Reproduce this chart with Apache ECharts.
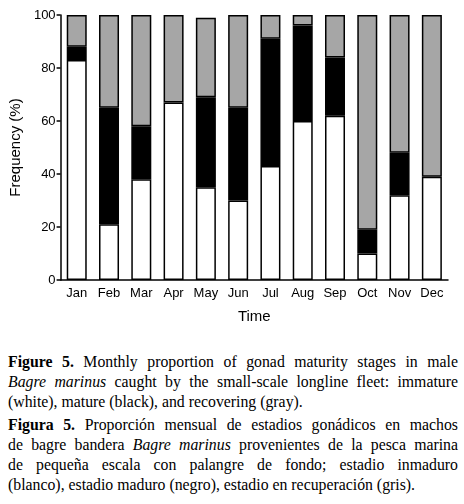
<!DOCTYPE html>
<html>
<head>
<meta charset="utf-8">
<script src="https://cdn.jsdelivr.net/npm/echarts@6/dist/echarts.min.js"></script>
<style>
  body { margin: 0; background: #fff; }
  #main { width: 464px; height: 340px; }
  #caption {
    position: absolute; left: 8px; top: 352px; width: 450px;
    font-family: "Liberation Serif", "Times New Roman", serif;
    font-size: 15.8px; line-height: 20px; color: #000;
  }
  #caption p { margin: 0 0 3px 0; }
  #caption span { display: block; white-space: nowrap; text-align: justify; text-align-last: justify; }
  #caption span.last { text-align-last: left; }
</style>
</head>
<body>
<div id="main"></div>
<div id="caption">
  <p><span><b>Figure 5.</b> Monthly proportion of gonad maturity stages in male</span><span><i>Bagre marinus</i> caught by the small-scale longline fleet: immature</span><span class="last">(white), mature (black), and recovering (gray).</span></p>
  <p><span><b>Figura 5.</b> Proporción mensual de estadios gonádicos en machos</span><span>de bagre bandera <i>Bagre marinus</i> provenientes de la pesca marina</span><span>de pequeña escala con palangre de fondo; estadio inmaduro</span><span class="last">(blanco), estadio maduro (negro), estadio en recuperación (gris).</span></p>
</div>
<script>
var months = ['Jan', 'Feb', 'Mar', 'Apr', 'May', 'Jun', 'Jul', 'Aug', 'Sep', 'Oct', 'Nov', 'Dec'];
var immature = [83, 21, 38, 67, 35, 30, 43, 60, 62, 10, 32, 39];
var mature = [5, 44, 20, 0, 34, 35, 48, 36, 22, 9, 16, 0];
var recovering = [12, 35, 42, 33, 30, 35, 9, 4, 16, 81, 52, 61];

var myChart = echarts.init(document.getElementById('main'));

var font = 'Liberation Sans, Arial, sans-serif';

function stage(name, data, color) {
	return {
		name: name,
		type: 'bar',
		stack: 'total',
		barWidth: 20,
		// empty segments would otherwise draw a doubled border line
		data: data.map(function (v) { return v === 0 ? '-' : v; }),
		itemStyle: { color: color, borderColor: '#000', borderWidth: 1.5 }
	};
}

option = {
	animation: false,
	grid: { left: 49, right: 16, top: 15, bottom: 60 },
	xAxis: {
		type: 'category',
		data: months,
		name: 'Time',
		nameLocation: 'middle',
		nameGap: 29,
		nameTextStyle: { fontFamily: font, fontSize: 15, color: '#000' },
		axisLine: { lineStyle: { color: '#000', width: 1.5 } },
		axisTick: { show: false },
		axisLabel: { fontFamily: font, fontSize: 13, color: '#000', margin: 7 }
	},
	yAxis: {
		type: 'value',
		min: 0,
		max: 100,
		interval: 20,
		name: 'Frequency (%)',
		nameLocation: 'middle',
		nameGap: 28,
		nameTextStyle: { fontFamily: font, fontSize: 15, color: '#000' },
		axisLine: { show: true, lineStyle: { color: '#000', width: 1.5 } },
		axisTick: { show: true, length: 4, lineStyle: { color: '#000', width: 1.5 } },
		axisLabel: { fontFamily: font, fontSize: 13, color: '#000', margin: 5 },
		splitLine: { show: false }
	},
	series: [
		stage('immature', immature, '#ffffff'),
		stage('mature', mature, '#000000'),
		stage('recovering', recovering, '#a6a6a6')
	]
};

myChart.setOption(option);
</script>
</body>
</html>
